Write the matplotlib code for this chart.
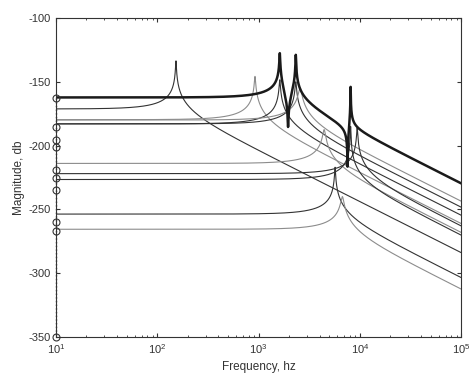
import numpy as np
import matplotlib
matplotlib.use("Agg")
import matplotlib.pyplot as plt
from matplotlib.ticker import LogLocator

plt.rcParams['font.family'] = ['Liberation Sans', 'DejaVu Sans']
plt.rcParams['axes.unicode_minus'] = False

# single modes: natural frequency (hz), low-frequency level (db), peak level (db)
mode_freq = [153, 922, 1620, 2330, 2570, 4440, 5690, 6720, 8100, 9400]
mode_level = [-171.3, -179.7, -183.0, -183.0, -180.0, -214.0, -253.7, -265.6, -226.6, -222.0]
mode_peak = [-133.6, -145.8, -148.4, -150.0, -154.7, -187.5, -217.0, -240.0, -185.0, -186.0]
mode_color = ['0.2', '0.55', '0.2', '0.2', '0.55', '0.55', '0.2', '0.55', '0.2', '0.2']

# total response (thick line): modes that build it
total_freq = [1620, 2330, 8100]
total_level = [-166.7, -170.5, -203.1]
total_peak = [-127.6, -128.9, -154.0]

# circles at 10 hz
circle_db = [-162.7, -185.4, -196.0, -201.0, -218.8, -225.8, -235.0, -259.6, -266.6, -350.0]


def sdof(f, fn, level_db, peak_db):
	zeta = 0.5 * 10 ** ((level_db - peak_db) / 20)
	r = f / fn
	return 10 ** (level_db / 20) / (1 - r ** 2 + 2j * zeta * r)


freq = np.logspace(1, 5, 20000)

fig = plt.figure(figsize=(4.74, 3.74), dpi=100)
ax = fig.add_axes([0.118, 0.099, 0.855, 0.853])

for fn, lv, pk, c in zip(mode_freq, mode_level, mode_peak, mode_color):
	h = sdof(freq, fn, lv, pk)
	ax.semilogx(freq, 20 * np.log10(np.abs(h)), color=c, lw=0.8)

total = sum(sdof(freq, fn, lv, pk) for fn, lv, pk in zip(total_freq, total_level, total_peak))
ax.semilogx(freq, 20 * np.log10(np.abs(total)), color='0.1', lw=1.8)

ax.plot([10] * len(circle_db), circle_db, color='0.2', ls=':', lw=1.0,
	marker='o', ms=5, mfc='none', mec='0.2', mew=0.8, clip_on=False, zorder=5)

ax.set_xlim(10, 1e5)
ax.set_ylim(-350, -100)
ax.set_yticks([-350, -300, -250, -200, -150, -100])
ax.xaxis.set_major_locator(LogLocator(base=10, numticks=10))
ax.xaxis.set_minor_locator(LogLocator(base=10, subs=np.arange(2, 10), numticks=20))
ax.tick_params(which='both', direction='in', top=True, right=True, labelsize=8, colors='0.2')
ax.tick_params(which='major', length=3)
ax.tick_params(which='minor', length=1.5)
for s in ax.spines.values():
	s.set_color('0.2')
	s.set_linewidth(0.8)

ax.set_xlabel("Frequency, hz", fontsize=8.5, color='0.2', labelpad=4)
ax.set_ylabel("Magnitude, db", fontsize=8.5, color='0.2', labelpad=3)

fig.savefig("out.png", dpi=100)
